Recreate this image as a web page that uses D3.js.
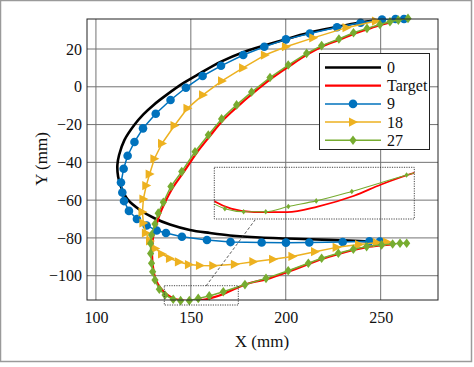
<!DOCTYPE html>
<html><head><meta charset="utf-8">
<script src="https://cdn.jsdelivr.net/npm/d3@7"></script>
<style>body{margin:0;background:#fff}svg{display:block}svg text{font-family:"Liberation Serif","Times New Roman",serif !important;fill:#111}</style>
</head><body><div id="c"></div>
<script>
// ---- data ----
const xTicks = [100, 150, 200, 250];
const yTicks = [20, 0, -20, -40, -60, -80, -100];
const legendLabels = ["0", "Target", "9", "18", "27"];

const curve0 = [[250.2,35.6],[239.1,34.0],[227.0,31.7],[212.7,28.7],[196.9,24.2],[177.6,18.3],[165.9,13.3],[154.8,7.1],[146.0,1.9],[137.2,-4.3],[130.4,-9.6],[125.0,-14.6],[120.2,-20.2],[115.0,-28.2],[112.2,-36.1],[111.3,-41.4],[111.7,-47.6],[113.5,-53.7],[116.9,-59.9],[123.2,-65.2],[131.1,-69.7],[139.0,-72.9],[149.5,-75.8],[160.1,-77.4],[170.6,-78.7],[186.4,-79.8],[200.1,-80.3],[212.7,-80.7],[230.1,-81.3],[245.4,-81.9]];

const target = [[255,34.0],[249.6,32.6],[242.8,30.4],[235.7,28.0],[228.0,24.8],[219.0,21.2],[211.2,17.0],[201.6,10.7],[192.0,4.0],[182.4,-3.7],[174.6,-10.5],[166.8,-17.9],[159.8,-26.4],[152.9,-35.2],[146.0,-45.5],[140.4,-53.6],[136.3,-61.4],[133.7,-67.3],[131.9,-73.0],[130.3,-78.5],[129.7,-84],[129.6,-89.5],[130.0,-95],[130.9,-100],[132.7,-104.6],[135.6,-108.4],[138.7,-110.9],[142,-112.5],[146.8,-113.3],[153.7,-113.3],[160,-112.0],[167.6,-109.5],[173.2,-106.9],[180.7,-104.0],[190,-101.8],[201.5,-97.8],[212,-93.8],[219,-91.2],[227.8,-88.5],[235.6,-86.4],[242.6,-84.9],[250.5,-83.9],[256,-83.4]];

const run9 = [[262.3,35.9],[257.8,35.9],[250.7,35.6],[239.4,33.9],[227.0,31.5],[212.7,28.2],[200.1,25.1],[188.7,21.2],[177.6,16.8],[165.9,11.1],[156.2,5.7],[147.4,-0.5],[139.3,-7.0],[131.5,-14.3],[124.8,-22.0],[120.3,-29.2],[116.7,-36.5],[114.6,-43.4],[113.2,-50.7],[113.9,-56.0],[114.8,-60.5],[117.4,-65.7],[121.6,-70.0],[126.7,-73.4],[132.0,-76.1],[136.9,-77.4],[145.3,-79.4],[158.5,-81.1],[170.9,-82.2],[187.3,-82.4],[200.1,-82.5],[212.4,-82.4],[230.0,-82.2],[244.1,-81.8],[249.6,-81.9]];

const run18 = [[247.5,34.8],[232.0,31.3],[214.5,25.9],[200.1,21.2],[189.0,16.8],[177.5,10.0],[166.4,3.1],[156.4,-4.3],[148.2,-11.4],[141.4,-20.5],[134.8,-30.0],[130.8,-38.1],[128.3,-46.2],[126.5,-52.3],[125.0,-59.4],[124.5,-66.3],[125.0,-72.1],[126.3,-77.4],[128.5,-81.6],[131.3,-85.6],[134.8,-88.5],[139.0,-90.9],[143.7,-92.7],[149.0,-94.1],[154.8,-94.6],[161.8,-94.7],[173.2,-94.0],[182.9,-92.6],[193.3,-91.3],[203.5,-89.8],[215.4,-87.3],[226.8,-85.0],[238.6,-83.5],[248.0,-82.5],[253.3,-82.2]];

const run27 = [[264.4,36.2],[259.3,35.3],[254.9,34.4],[249.6,33.0],[242.8,30.9],[235.7,28.6],[228.0,25.3],[218.9,21.8],[211.0,17.7],[201.3,11.5],[191.7,4.9],[182.0,-2.8],[174.1,-9.6],[166.2,-17.0],[159.2,-25.5],[152.2,-34.4],[145.2,-44.9],[139.5,-52.8],[135.5,-61.1],[132.8,-66.9],[131.1,-72.6],[129.3,-78.4],[128.8,-82.9],[128.8,-88.2],[129.3,-93.4],[129.9,-97.9],[131.1,-102.3],[133.4,-107.2],[136.4,-110.2],[140.7,-112.5],[144.6,-113.2],[149.2,-113.2],[153.9,-112.0],[159.7,-110.7],[167.1,-108.5],[178.5,-104.7],[189.6,-101.4],[201.3,-97.4],[211.9,-93.4],[218.9,-90.8],[227.7,-88.1],[235.6,-86.0],[242.6,-84.6],[250.5,-83.7],[256.3,-83.2],[260.2,-82.8],[263.7,-82.8]];

// ---- layout ----
const W = 474, H = 367;
const L = 87, R = 438, T = 19, B = 300;
const FONT = "Liberation Serif, Times New Roman, serif";
const col = {c0:"#000000", tgt:"#FF0000", r9:"#0072BD", r18:"#EDB120", r27:"#77AC30"};

const svg = d3.select("#c").append("svg").attr("width", W).attr("height", H).attr("font-family", FONT);
svg.append("rect").attr("x",0.5).attr("y",0.5).attr("width",471).attr("height",361)
  .attr("fill","#fff").attr("stroke","#9a9a9a").attr("stroke-width",1.5);

const x = d3.scaleLinear().domain([95.3, 280.2]).range([L, R]);
const y = d3.scaleLinear().domain([-112.86, 35.88]).range([B, T]);

const defs = svg.append("defs");
defs.append("clipPath").attr("id","clipMain").append("rect").attr("x",L).attr("y",T).attr("width",R-L).attr("height",B-T);

// grid
const g = svg.append("g");
g.selectAll(".gx").data(xTicks).join("line").attr("x1",d=>x(d)).attr("x2",d=>x(d)).attr("y1",T).attr("y2",B).attr("stroke","#737373").attr("stroke-width",1);
g.selectAll(".gy").data(yTicks).join("line").attr("y1",d=>y(d)).attr("y2",d=>y(d)).attr("x1",L).attr("x2",R).attr("stroke","#737373").attr("stroke-width",1);

// axes (labels)
const xAxis = d3.axisBottom(x).tickValues(xTicks).tickSize(0).tickPadding(12);
const yAxis = d3.axisLeft(y).tickValues(yTicks).tickSize(0).tickPadding(5);
const gxA = svg.append("g").attr("transform",`translate(0,${B})`).call(xAxis);
const gyA = svg.append("g").attr("transform",`translate(${L},0)`).call(yAxis);
[gxA, gyA].forEach(a => {
  a.attr("font-family", FONT).attr("font-size", 16);
  a.select(".domain").remove();
  a.selectAll("text").attr("font-family", FONT).attr("font-size", 16).attr("fill","#111");
});

svg.append("text").attr("x",262).attr("y",347).attr("text-anchor","middle").attr("font-size",17).text("X (mm)");
svg.append("text").attr("transform","translate(47,159) rotate(-90)").attr("text-anchor","middle").attr("font-size",17).text("Y (mm)");

// series
const line = d3.line().x(d=>x(d[0])).y(d=>y(d[1]));
const smooth = d3.line().x(d=>x(d[0])).y(d=>y(d[1])).curve(d3.curveCatmullRom.alpha(0.5));
const plot = svg.append("g");

const tri = "M-4,-4.6L5,0L-4,4.6Z";
const dia = "M0,-4.8L3.6,0L0,4.8L-3.6,0Z";

function drawSeries(data, color, w, marker, gen) {
  plot.append("path").datum(data).attr("d", gen || line).attr("fill","none").attr("stroke",color).attr("stroke-width",w).attr("stroke-linejoin","round").attr("clip-path","url(#clipMain)");
  if (marker === "circle") {
    plot.append("g").selectAll("circle").data(data).join("circle").attr("cx",d=>x(d[0])).attr("cy",d=>y(d[1])).attr("r",4.3).attr("fill",color);
  } else if (marker) {
    plot.append("g").selectAll("path").data(data).join("path").attr("d",marker).attr("transform",d=>`translate(${x(d[0])},${y(d[1])})`).attr("fill",color);
  }
}
drawSeries(curve0, col.c0, 2.6, null, smooth);
drawSeries(target, col.tgt, 2.2, null, smooth);
drawSeries(run9, col.r9, 1.5, "circle");
drawSeries(run18, col.r18, 1.5, tri);
drawSeries(run27, col.r27, 1.5, dia);

// frame
svg.append("rect").attr("x",L).attr("y",T).attr("width",R-L).attr("height",B-T).attr("fill","none").attr("stroke","#222").attr("stroke-width",1);

// zoom annotation: small box, connector, inset
svg.append("rect").attr("x",164.3).attr("y",285.7).attr("width",74).attr("height",19.3)
  .attr("fill","none").attr("stroke","#333").attr("stroke-width",0.9).attr("stroke-dasharray","1.2,1.2");
svg.append("line").attr("x1",206).attr("y1",286).attr("x2",255).attr("y2",220)
  .attr("stroke","#333").attr("stroke-width",0.8).attr("stroke-dasharray","3,2");

const IL = 214.3, IR = 414.3, IT = 167.3, IB = 219;
defs.append("clipPath").attr("id","clipInset").append("rect").attr("x",IL).attr("y",IT).attr("width",IR-IL).attr("height",IB-IT);
const xi = d3.scaleLinear().domain([138.5, 180.1]).range([IL, IR]);
const yi = d3.scaleLinear().domain([-114.9, -102.9]).range([IB, IT]);
const lineI = d3.line().x(d=>xi(d[0])).y(d=>yi(d[1])).curve(d3.curveMonotoneX);
const inset = svg.append("g").attr("clip-path","url(#clipInset)");
const tI = target.filter(d=>d[1] < -100 && d[0] > 134);
const gI = run27.filter(d=>d[1] < -100 && d[0] > 134);
inset.append("path").datum(tI).attr("d",lineI).attr("fill","none").attr("stroke",col.tgt).attr("stroke-width",1.8);
inset.append("path").datum(gI).attr("d",lineI).attr("fill","none").attr("stroke",col.r27).attr("stroke-width",1.1);
inset.selectAll(".dm").data(gI).join("path").attr("d","M0,-2.8L2.1,0L0,2.8L-2.1,0Z").attr("transform",d=>`translate(${xi(d[0])},${yi(d[1])})`).attr("fill",col.r27);
svg.append("rect").attr("x",IL).attr("y",IT).attr("width",IR-IL).attr("height",IB-IT)
  .attr("fill","none").attr("stroke","#333").attr("stroke-width",0.9).attr("stroke-dasharray","1.2,1.2");

// legend
const lg = svg.append("g");
lg.append("rect").attr("x",319.5).attr("y",53.5).attr("width",110).attr("height",96).attr("fill","#fff").attr("stroke","#222").attr("stroke-width",1);
const lgColors = [col.c0, col.tgt, col.r9, col.r18, col.r27];
const lgW = [2.6, 2.2, 1.5, 1.5, 1.5];
const lgMarks = [null, null, "circle", tri, dia];
legendLabels.forEach((lab, i) => {
  const yy = 67.5 + i*18.2;
  lg.append("line").attr("x1",325).attr("x2",381).attr("y1",yy).attr("y2",yy).attr("stroke",lgColors[i]).attr("stroke-width",lgW[i]);
  if (lgMarks[i] === "circle") lg.append("circle").attr("cx",353).attr("cy",yy).attr("r",4.3).attr("fill",lgColors[i]);
  else if (lgMarks[i]) lg.append("path").attr("d",lgMarks[i]).attr("transform",`translate(353,${yy})`).attr("fill",lgColors[i]);
  lg.append("text").attr("x",387).attr("y",yy+5.5).attr("font-size",16).text(lab);
});
</script></body></html>
